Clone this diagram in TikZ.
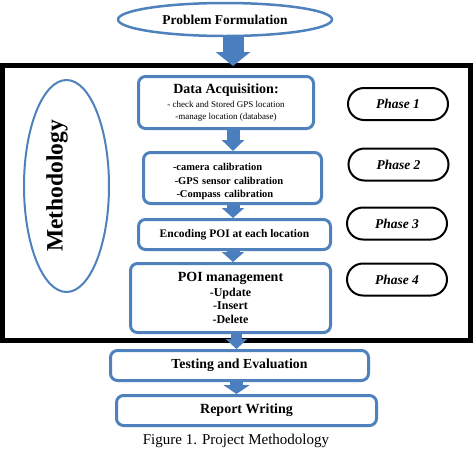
\documentclass[tikz,border=0pt]{standalone}
\usepackage{fontspec}
\setmainfont{Liberation Serif}
\usetikzlibrary{shapes.geometric, arrows.meta}
\definecolor{bxblue}{HTML}{4F81BD}
\definecolor{arblue}{HTML}{4A7EBF}
\begin{document}
\begin{tikzpicture}[x=1pt,y=-1pt,
  bluebox/.style={draw=bxblue, line width=3pt, rounded corners=7pt, inner sep=0pt, fill=white, align=center},
  phasebox/.style={draw=black, line width=2pt, rounded corners=16pt, minimum width=100pt, minimum height=32pt, inner sep=0pt, font=\fontsize{13.5}{15}\selectfont\bfseries\itshape},
  blockarrow/.style={arblue, line width=#1},
  blockarrow/.default=14pt
]
\useasboundingbox (0,0) rectangle (474,451);
% frame
\draw[line width=5pt] (2.5,65) rectangle (470.5,340.5);
% top ellipse
\node[ellipse, draw=bxblue, line width=2.5pt, minimum width=214pt, minimum height=33pt, inner sep=0pt,
      font=\fontsize{13.5}{15}\selectfont\bfseries] (pf) at (225,19.5) {Problem Formulation};
% methodology ellipse
\node[ellipse, draw=bxblue, line width=2pt, minimum width=85pt, minimum height=212pt, inner sep=0pt] (meth) at (66.5,186) {};
\node[rotate=90, font=\fontsize{23.5}{25}\selectfont\bfseries, inner sep=0pt] (methtxt) at (57,186) {Methodology};
% boxes
\node[bluebox, minimum width=175pt, minimum height=52pt, font=\fontsize{9}{12.5}\selectfont] (da) at (226,102.5)
  {{\fontsize{14}{14}\selectfont\bfseries Data Acquisition:}\\[1.5pt]
   - check and Stored GPS location\\
   -manage location (database)};
\node[bluebox, minimum width=178pt, minimum height=51pt, font=\fontsize{10.5}{13.5}\selectfont\bfseries, align=left, text width=119pt] (cal) at (232.5,178)
  {\rule{0pt}{15pt}-camera calibration\\ \,-GPS sensor calibration\\ \,\,-Compass calibration};
\node[bluebox, minimum width=192pt, minimum height=30pt, font=\fontsize{11.5}{13}\selectfont\bfseries] (enc) at (234.5,234.5)
  {Encoding POI at each location};
\node[bluebox, minimum width=200pt, minimum height=69pt, font=\fontsize{12}{13.5}\selectfont\bfseries] (poi) at (230.5,298)
  {{\fontsize{14}{14}\selectfont POI management}\\[1pt]
   -Update\\
   -Insert\\
   -Delete};
\node[bluebox, minimum width=258pt, minimum height=30pt, font=\fontsize{13.8}{15}\selectfont\bfseries] (test) at (239.5,365.5)
  {Testing and Evaluation};
\node[bluebox, minimum width=260pt, minimum height=30pt, font=\fontsize{14}{15}\selectfont\bfseries] (rep) at (246.5,410.5)
  {Report Writing};
% phases
\node[phasebox] (p1) at (398,104) {Phase 1};
\node[phasebox] (p2) at (398.5,164.5) {Phase 2};
\node[phasebox] (p3) at (397,223.5) {Phase 3};
\node[phasebox] (p4) at (397,279.5) {Phase 4};
% arrows
\coordinate (ax) at (233,0);
\coordinate (bx) at (236.5,0);
\coordinate (a1) at (233,66);
\draw[blockarrow=21pt, -{Triangle[width=34pt,length=14pt]}] (pf.south -| a1) -- (a1);
\draw[blockarrow=13pt, -{Triangle[width=22pt,length=11pt]}] (da.south -| ax) -- (cal.north -| ax);
\draw[blockarrow=13pt, -{Triangle[width=22pt,length=10pt]}] (cal.south -| ax) -- (enc.north -| ax);
\draw[blockarrow=13pt, -{Triangle[width=22pt,length=10pt]}] (enc.south -| ax) -- (poi.north -| ax);
\draw[blockarrow=11pt, -{Triangle[width=21pt,length=10pt]}] (poi.south -| bx) -- (test.north -| bx);
\draw[blockarrow=13pt, -{Triangle[width=26pt,length=9pt]}] (test.south -| bx) -- (rep.north -| bx);
% caption
\node[font=\fontsize{15}{17}\selectfont, inner sep=0pt] (cap) at (236,441) {Figure 1. Project Methodology};
\end{tikzpicture}
\end{document}
